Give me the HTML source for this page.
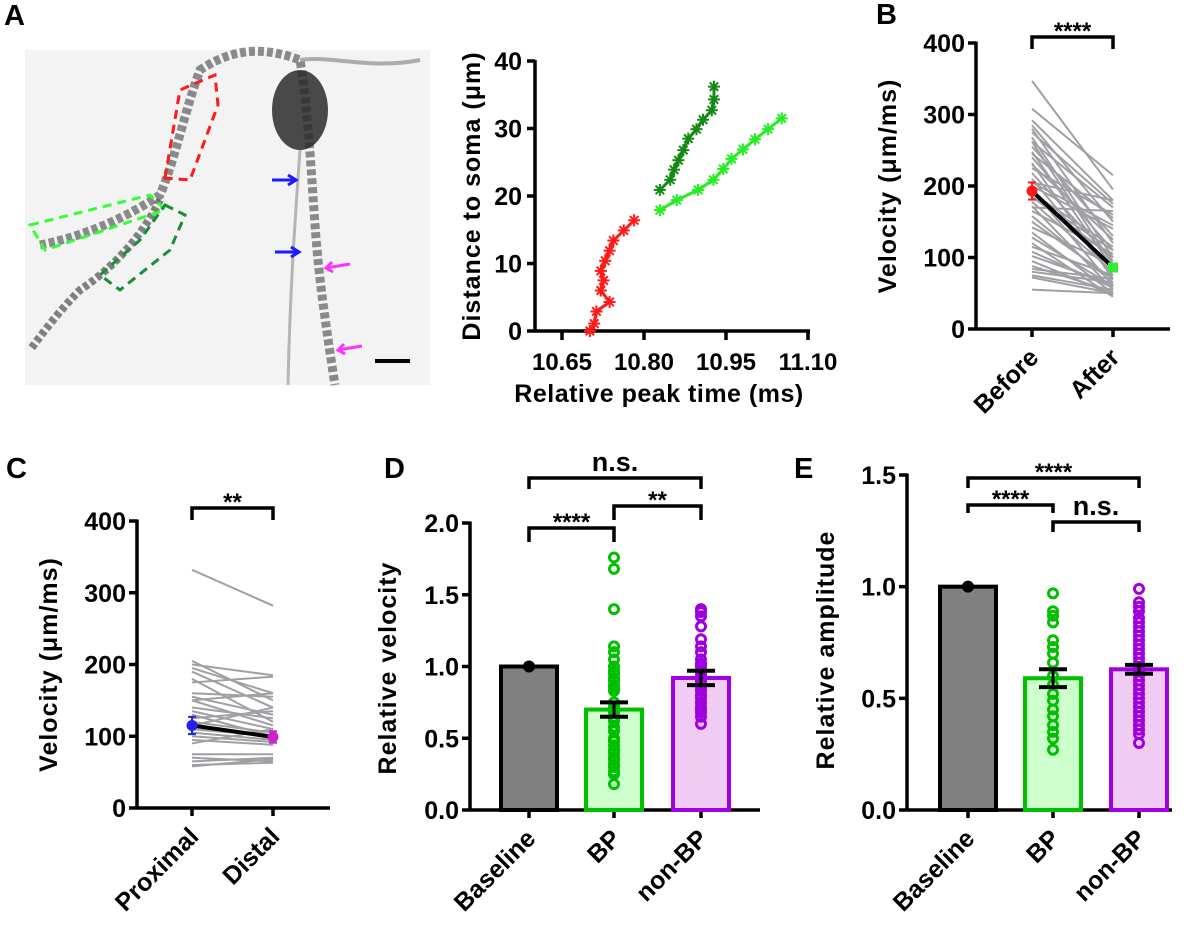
<!DOCTYPE html>
<html><head><meta charset="utf-8"><style>
body{margin:0;background:#fff}
svg{display:block;font-family:"Liberation Sans",Arial,sans-serif;font-weight:bold}
</style></head><body>
<svg id="fig" width="1200" height="927" viewBox="0 0 1200 927" xmlns="http://www.w3.org/2000/svg">
<g>
<rect x="25" y="50" width="405" height="335" fill="#f3f3f3"/>
<path d="M40 245 C90 235 130 215 160 195 C175 160 185 110 200 70 C230 50 260 45 300 60 C310 120 312 200 318 260 C322 300 328 340 335 385" stroke="#444" stroke-width="9" fill="none" opacity="0.6" stroke-dasharray="6,3"/>
<path d="M160 200 C140 240 110 270 80 290 C60 310 45 330 30 350" stroke="#333" stroke-width="8" fill="none" opacity="0.6" stroke-dasharray="5,3"/>
<path d="M300 150 C295 220 290 290 288 385" stroke="#777" stroke-width="3" fill="none" opacity="0.5"/>
<path d="M300 60 C330 55 370 70 420 60" stroke="#666" stroke-width="4" fill="none" opacity="0.5"/>
<ellipse cx="300" cy="110" rx="28" ry="40" fill="#2a2a2a" opacity="0.85"/>
<path d="M165 178 L180 90 L215 75 L218 105 L190 180 Z" fill="none" stroke="#ff1a1a" stroke-width="3" stroke-dasharray="9,6"/>
<path d="M30 225 L150 195 L165 210 L45 250 Z" fill="none" stroke="#33ff33" stroke-width="3" stroke-dasharray="9,6"/>
<path d="M165 205 L185 215 L170 250 L120 290 L100 275 L140 240 Z" fill="none" stroke="#1a8c3a" stroke-width="3" stroke-dasharray="9,6"/>
<path d="M272 180 L296 180 M288 175 L296 180 L288 185" stroke="#1a1aff" stroke-width="3" fill="none"/>
<path d="M275 252 L299 252 M291 247 L299 252 L291 257" stroke="#1a1aff" stroke-width="3" fill="none"/>
<path d="M350 264 L326 268 M332 262 L326 268 L333 272" stroke="#ff33ff" stroke-width="3" fill="none"/>
<path d="M362 346 L338 350 M344 344 L338 350 L345 354" stroke="#ff33ff" stroke-width="3" fill="none"/>
<rect x="375" y="359" width="35" height="4" fill="#000"/>
</g>
<g id="plots"></g>
</svg>
<script>
// Panel A data
const redX=[10.701,10.709,10.713,10.737,10.721,10.726,10.721,10.729,10.737,10.744,10.763,10.782];
const redY=[0,1.1,2.9,4.3,6.0,7.5,8.9,10.4,11.9,13.4,14.9,16.4];
const dgX=[10.829,10.848,10.855,10.863,10.872,10.881,10.896,10.908,10.924,10.928,10.928];
const dgY=[20.9,22.4,23.9,25.3,26.8,28.5,29.9,31.3,32.7,34.3,36.2];
const lgX=[10.829,10.860,10.899,10.927,10.945,10.960,10.981,11.003,11.027,11.052];
const lgY=[17.9,19.4,20.9,22.4,24.0,25.5,26.9,28.4,29.9,31.5];
const aXTicks=["10.65","10.80","10.95","11.10"];
const aYTicks=["0","10","20","30","40"];
// Panel B data
const bBefore=[347,308,292,285,280,275,268,262,255,248,240,232,225,218,210,205,200,195,190,185,178,172,165,158,150,142,135,128,120,115,108,102,95,88,84,80,75,72,55,262,245,230,205,185,170];
const bAfter=[195,215,180,150,120,175,100,90,130,85,110,70,160,95,75,180,140,60,115,100,80,55,105,65,70,90,50,60,45,75,58,62,48,52,70,65,55,50,50,170,155,125,145,110,165];
const bMeans=[193,86];
const bErr=[12,5];
const bCats=["Before","After"];
const vTicks=["0","100","200","300","400"];
// Panel C data
const cProx=[332,205,200,195,190,180,175,160,155,150,140,135,130,120,115,110,105,100,95,90,75,70,65,60,58,150,125];
const cDist=[282,150,185,160,140,120,183,155,130,115,125,110,100,105,140,100,95,92,88,110,75,65,70,63,68,160,135];
const cMeans=[115,99];
const cErr=[12,8];
const cCats=["Proximal","Distal"];
// Panel D data
const dCats=["Baseline","BP","non-BP"];
const dMeans=[1.0,0.70,0.92];
const dErr=[0,0.05,0.05];
const dBP=[1.76,1.68,1.40,1.14,1.10,1.05,1.0,0.97,0.95,0.92,0.9,0.87,0.85,0.83,0.75,0.72,0.70,0.68,0.65,0.62,0.58,0.55,0.5,0.48,0.45,0.42,0.4,0.37,0.35,0.32,0.3,0.27,0.25,0.18];
const dNon=[1.40,1.38,1.35,1.28,1.19,1.14,1.10,1.05,1.02,1.0,0.98,0.96,0.95,0.93,0.9,0.88,0.85,0.83,0.8,0.78,0.75,0.72,0.7,0.68,0.65,0.6];
const dTicks=["0.0","0.5","1.0","1.5","2.0"];
// Panel E data
const eMeans=[1.0,0.59,0.63];
const eErr=[0,0.04,0.02];
const eBP=[0.97,0.89,0.87,0.84,0.76,0.73,0.70,0.66,0.6,0.56,0.52,0.49,0.45,0.42,0.38,0.35,0.32,0.27];
const eNon=[0.99,0.93,0.91,0.89,0.86,0.84,0.82,0.8,0.78,0.76,0.74,0.72,0.7,0.68,0.66,0.64,0.62,0.6,0.58,0.56,0.54,0.52,0.5,0.48,0.46,0.44,0.42,0.4,0.38,0.36,0.34,0.3];
const eTicks=["0.0","0.5","1.0","1.5"];

const NS="http://www.w3.org/2000/svg";
const root=document.getElementById('plots');
function mk(tag,attrs,parent,txt){const e=document.createElementNS(NS,tag);for(const k in attrs)e.setAttribute(k,attrs[k]);if(txt!==undefined)e.textContent=txt;(parent||root).appendChild(e);return e;}
function line(x1,y1,x2,y2,c,w,p){return mk('line',{x1,y1,x2,y2,stroke:c,'stroke-width':w},p);}
function star(cx,cy,col,p){const g=mk('g',{},p);


for(let i=0;i<4;i++){const a=i*Math.PI/4;line(cx-6*Math.cos(a),cy-6*Math.sin(a),cx+6*Math.cos(a),cy+6*Math.sin(a),col,2,g);}}
function label(t,x,y,size,anchor,rot,name,ls){const e=mk('text',{x,y,'font-size':size,'text-anchor':anchor||'middle'},root,t);if(rot)e.setAttribute('transform',`rotate(${rot} ${x} ${y})`);
if(ls)e.setAttribute('letter-spacing',ls);

return e;}
function bracket(x1,x2,y,drop,txt,ts){const g=mk('path',{d:`M${x1} ${y+drop}V${y}H${x2}V${y+drop}`,stroke:'#000','stroke-width':3.5,fill:'none'});


label(txt,(x1+x2)/2,txt.includes('*')?y+2:y-7,ts||(txt.includes('*')?24:27),'middle',0,'significance-label');}
function yAxis(ax,ticks,vals,title,tx){line(ax.x0,ax.y(vals[0])+1.5,ax.x0,ax.y(vals[vals.length-1])-1.5,'#000',3.5);
ticks.forEach((t,i)=>{const y=ax.y(vals[i]);line(ax.x0-8,y,ax.x0,y,'#000',3.5);label(t,ax.x0-11,y+9,25,'end',0,'y-tick-label');});
label(title,tx,ax.ty,25,'middle',-90,'y-axis-title','1');}

// Panel labels
label('A',4,25,29,'start',0,'panel-label-a');label('B',876,24,29,'start',0,'panel-label-b');
label('C',6,478,29,'start',0,'panel-label-c');label('D',384,478,29,'start',0,'panel-label-d');label('E',794,478,29,'start',0,'panel-label-e');

// ---- Panel A scatter
(function(){const xs=v=>562+(v-10.65)/0.15*82, ys=v=>331-v*6.75;
line(535,331,810,331,'#000',3.5);line(535,332,535,60,'#000',3.5);
aXTicks.forEach(t=>{const x=xs(parseFloat(t));line(x,331,x,340,'#000',3.5);label(t,x,370,24,'middle',0,'x-tick-label');});
aYTicks.forEach(t=>{const y=ys(parseFloat(t));line(527,y,535,y,'#000',3.5);label(t,522,y+9,25,'end',0,'y-tick-label');});
label('Distance to soma (μm)',480,196,25,'middle',-90,'y-axis-title','1');
label('Relative peak time (ms)',659,402,25,'middle',0,'x-axis-title','0.5');
[[redX,redY,'#ff1a1a','red-series'],[dgX,dgY,'#138a13','dark-green-series'],[lgX,lgY,'#22ee22','light-green-series']].forEach(([X,Y,c,n])=>{
const pl=mk('polyline',{points:X.map((v,i)=>xs(v)+','+ys(Y[i])).join(' '),stroke:c,'stroke-width':3,fill:'none'});


X.forEach((v,i)=>star(xs(v),ys(Y[i]),c));});})();

// ---- Paired plots B & C
function paired(o){const y=v=>o.y0-v*(o.y0-o.y400)/400;const ax={x0:o.x0,y,ty:(o.y0+o.y400)/2};
yAxis(ax,vTicks,[0,100,200,300,400],'Velocity (μm/ms)',o.tx);
line(o.x0,o.y0,o.xe,o.y0,'#000',3.5);
[o.xa,o.xb].forEach((x,i)=>{line(x,o.y0,x,o.y0+8,'#000',3.5);label(o.cats[i],x+8,o.y0+30,25,'end',-45,'x-category-label');});
o.A.forEach((v,i)=>{const l=line(o.xa,y(v),o.xb,y(o.B[i]),'#a0a0a4',2);

});
line(o.xa,y(o.m[0]),o.xb,y(o.m[1]),'#000',4);
o.m.forEach((v,i)=>{const x=i?o.xb:o.xa,c=o.cols[i];
line(x,y(v-o.e[i]),x,y(v+o.e[i]),c,2);line(x-4,y(v-o.e[i]),x+4,y(v-o.e[i]),c,2);line(x-4,y(v+o.e[i]),x+4,y(v+o.e[i]),c,2);
const d=o.sq&&i?mk('rect',{x:x-5,y:y(v)-5,width:10,height:10,fill:c}):mk('circle',{cx:x,cy:y(v),r:5.5,fill:c});

});
bracket(o.xa,o.xb,o.by,12,o.sig);}
paired({x0:976,y0:329,y400:43,xe:1170,xa:1032,xb:1113,tx:896,cats:bCats,A:bBefore,B:bAfter,m:bMeans,e:bErr,cols:['#ff1a1a','#33ee33'],sq:true,by:37,sig:'****'});
paired({x0:137,y0:808,y400:521,xe:330,xa:192,xb:273,tx:57,cats:cCats,A:cProx,B:cDist,m:cMeans,e:cErr,cols:['#2222ee','#cc22cc'],by:508,sig:'**'});

// ---- Bar plots D & E
function bars(o){const y=v=>o.y0-v*o.k;const ax={x0:o.x0,y,ty:o.ty};
yAxis(ax,o.ticks,o.ticks.map(parseFloat),o.title,o.tx);
line(o.x0,o.y0,o.xe,o.y0,'#000',3.5);
const fills=['#808080','#ccffcc','#f0ccf5'],strokes=['#000','#00c000','#a000e0'];
o.xs.forEach((x,i)=>{line(x,o.y0,x,o.y0+8,'#000',3.5);label(dCats[i],x+8,o.y0+30,25,'end',-45,'x-category-label');
const r=mk('rect',{x:x-28,y:y(o.m[i]),width:56,height:o.y0-y(o.m[i]),fill:fills[i],stroke:strokes[i],'stroke-width':4});

});
[o.P1,o.P2].forEach((P,j)=>{P.forEach(v=>{const c=mk('circle',{cx:o.xs[j+1],cy:y(v),r:4.5,fill:'none',stroke:strokes[j+1],'stroke-width':3});

});});
const b=mk('circle',{cx:o.xs[0],cy:y(1),r:6,fill:'#000'});


[1,2].forEach(i=>{const x=o.xs[i],v=o.m[i],e=o.e[i];line(x,y(v-e),x,y(v+e),'#000',3);line(x-14,y(v-e),x+14,y(v-e),'#000',4);line(x-14,y(v+e),x+14,y(v+e),'#000',4);});
o.br.forEach(b=>bracket(o.xs[b[0]],o.xs[b[1]],b[2],b[3],b[4]));}
bars({x0:470,y0:810,k:(810-523)/2,xe:760,xs:[529,614,701],m:dMeans,e:dErr,P1:dBP,P2:dNon,ticks:dTicks,title:'Relative velocity',tx:396,ty:668,
br:[[0,1,528,14,'****'],[1,2,506,14,'**'],[0,2,478,11,'n.s.']]});
bars({x0:907,y0:810,k:(810-475)/1.5,xe:1172,xs:[968,1053,1139],m:eMeans,e:eErr,P1:eBP,P2:eNon,ticks:eTicks,title:'Relative amplitude',tx:834,ty:650,
br:[[0,2,478,10,'****'],[0,1,505,8,'****'],[1,2,522,10,'n.s.']]});
</script>
</body></html>
